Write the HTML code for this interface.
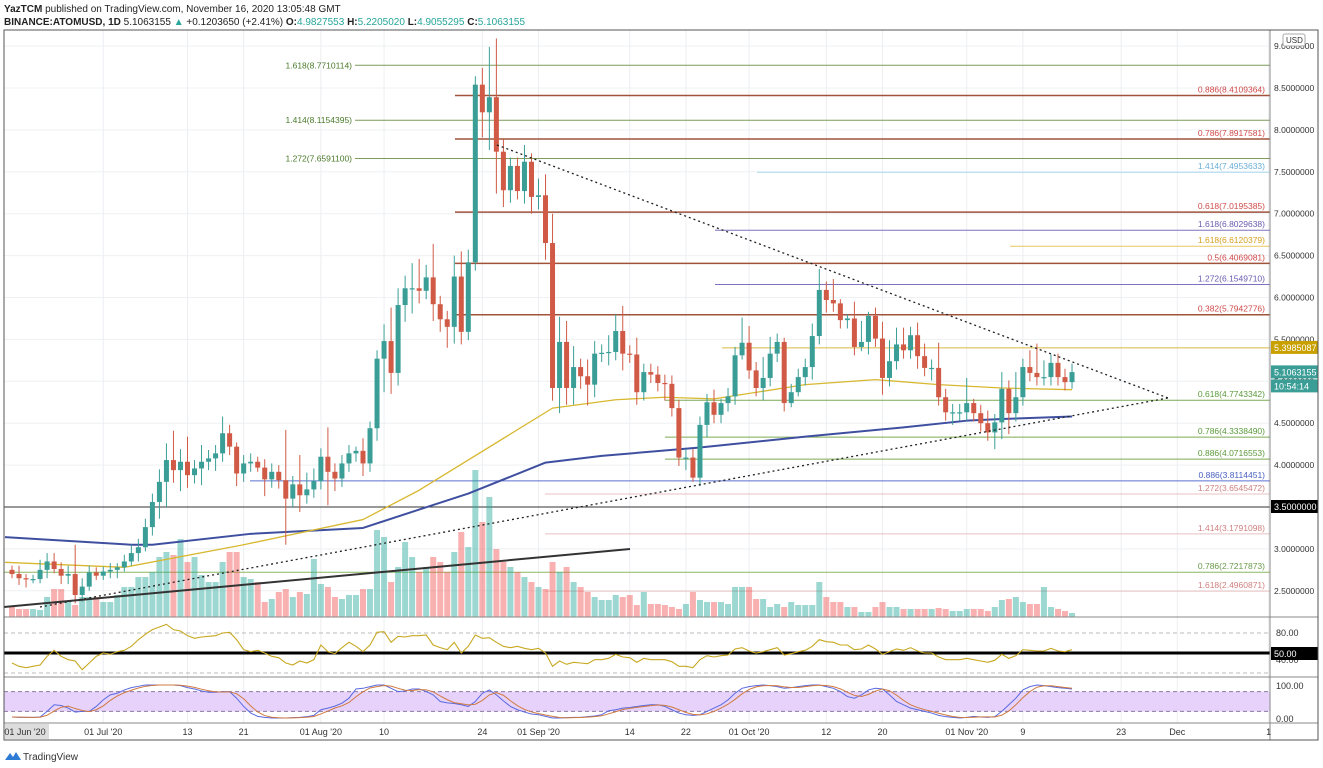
<!DOCTYPE html>
<html><head><meta charset="utf-8"><style>
body{margin:0;background:#fff;width:1323px;height:768px;overflow:hidden;font-family:"Liberation Sans",sans-serif}
svg{position:absolute;left:0;top:0}
</style></head><body>
<svg id="c" width="1323" height="768" xmlns="http://www.w3.org/2000/svg" font-family="Liberation Sans, sans-serif">
<text x="4" y="12" font-size="10" fill="#222"><tspan font-weight="bold">YazTCM</tspan> published on TradingView.com, November 16, 2020 13:05:48 GMT</text>
<text x="4" y="25" font-size="10" fill="#222"><tspan font-weight="bold">BINANCE:ATOMUSD, 1D</tspan> 5.1063155 <tspan fill="#26a69a">▲</tspan> +0.1203650 (+2.41%) <tspan font-weight="bold">O:</tspan><tspan fill="#26a69a">4.9827553</tspan> <tspan font-weight="bold">H:</tspan><tspan fill="#26a69a">5.2205020</tspan> <tspan font-weight="bold">L:</tspan><tspan fill="#26a69a">4.9055295</tspan> <tspan font-weight="bold">C:</tspan><tspan fill="#26a69a">5.1063155</tspan></text>
<g id="grid"></g><g id="levels"></g><g id="vol"></g><g id="ma"></g><g id="candles"></g><g id="trend"></g><g id="ind"></g><g id="axes"></g>
<rect x="4" y="30" width="1314" height="710" fill="none" stroke="#555" stroke-width="1"/>
<g><path d="M5 760 L10 753 L13 757 L16 752 L21 760 Z" fill="#2e7bd6"/><text x="23" y="760" font-size="10" fill="#333">TradingView</text></g>
</svg>
<script>
const NS="http://www.w3.org/2000/svg";
const closes=[2.70,2.65,2.64,2.64,2.75,2.85,2.76,2.68,2.70,2.45,2.55,2.72,2.68,2.73,2.75,2.78,2.85,2.95,3.02,3.26,3.56,3.80,4.06,3.94,4.04,3.88,3.96,4.04,4.08,4.14,4.38,4.22,3.90,4.02,4.04,3.97,3.83,3.92,3.82,3.60,3.77,3.64,3.71,3.81,4.10,3.92,3.84,4.02,4.14,4.17,4.02,4.44,5.27,5.48,5.10,5.91,6.11,6.11,6.08,6.24,5.92,5.74,5.65,6.25,5.59,6.42,8.54,8.21,8.39,7.74,7.28,7.57,7.27,7.62,7.20,7.22,6.65,4.92,5.47,4.92,5.17,5.06,4.96,5.33,5.34,5.35,5.60,5.33,5.32,4.87,5.11,5.08,4.98,4.97,4.68,4.09,4.09,3.85,4.48,4.75,4.60,4.74,4.82,5.31,5.46,5.13,4.92,5.04,5.33,5.47,4.74,4.87,5.05,5.17,5.54,6.09,5.97,5.93,5.73,5.75,5.41,5.47,5.78,5.51,5.04,5.24,5.44,5.37,5.55,5.30,5.16,5.16,4.81,4.63,4.63,4.63,4.74,4.62,4.50,4.39,4.51,4.91,4.62,4.81,5.17,5.10,5.05,5.05,5.22,5.05,4.99,5.11];
const firstOpen=2.75;
const wickUp=[.05,.1,.05,.05,.12,.1,.1,.08,.1,.35,.1,.08,.06,.06,.08,.05,.08,.1,.1,.1,.1,.15,.2,.35,.15,.3,.1,.2,.1,.1,.2,.1,.05,.1,.1,.06,.1,.1,.08,.6,.1,.35,.2,.15,.1,.35,.1,.1,.1,.05,.15,.08,.1,.2,.4,.2,.15,.3,.35,.15,.4,.1,.1,.25,.3,.15,.1,.2,.6,.7,.15,.1,.1,.2,.1,.2,.25,.35,.3,.25,.25,.1,.2,.15,.1,.2,.2,.3,.1,.2,.1,.1,.1,.1,.1,.1,.1,.1,.1,.1,.15,.05,.1,.1,.3,.2,.1,.25,.2,.1,.05,.1,.1,.1,.15,.25,.1,.25,.05,.05,.2,.25,.05,.1,.2,.25,.2,.2,.1,.15,.15,.1,.3,.1,.1,.1,.3,.05,.1,.15,.1,.2,.1,.3,.1,.2,.35,.2,.1,.11];
const wickDn=[.05,.08,.1,.05,.05,.1,.05,.1,.1,.1,.08,.05,.05,.05,.08,.1,.05,.05,.1,.05,.1,.2,.3,.15,.25,.15,.1,.2,.1,.15,.1,.1,.15,.1,.1,.05,.2,.1,.1,.55,.1,.2,.1,.1,.1,.4,.15,.1,.1,.1,.15,.1,.15,.4,.25,.15,.2,.3,.15,.1,.2,.15,.25,.2,.15,.1,.1,.3,.45,.5,.2,.15,.1,.15,.2,.15,.2,.15,.3,.2,.2,.15,.25,.15,.1,.15,.1,.2,.1,.15,.1,.1,.1,.2,.1,.1,.15,.05,.1,.15,.1,.1,.1,.1,.05,.1,.1,.15,.1,.1,.1,.05,.05,.1,.15,.1,.15,.1,.1,.1,.1,.05,.15,.1,.2,.1,.1,.1,.1,.15,.1,.15,.1,.1,.15,.1,.1,.1,.1,.1,.2,.2,.25,.1,.1,.1,.1,.1,.1,.1,.1,.08];
const volume=[10,8,8,8,7,20,28,28,15,12,20,20,20,15,15,22,30,30,40,40,45,60,65,62,78,55,60,42,35,35,55,65,65,40,38,35,15,18,25,28,20,25,23,58,33,30,20,18,22,22,28,28,87,80,35,50,75,60,45,50,60,55,45,65,85,70,147,95,120,68,55,50,45,40,35,30,28,55,45,50,35,30,25,20,17,17,22,20,22,12,25,13,13,12,10,8,13,25,17,15,15,15,13,30,30,30,18,18,10,13,10,15,12,12,12,35,20,15,15,10,10,5,5,10,15,10,10,8,8,8,8,8,9,8,6,6,8,8,8,6,10,17,18,20,15,13,13,30,10,8,6,4];
const rsi=[35,30,28,30,32,45,54,45,40,38,25,35,45,50,48,52,54,60,70,78,85,89,93,85,83,76,72,74,75,76,80,81,70,55,52,54,50,45,43,35,32,38,35,40,62,52,49,58,66,60,52,62,81,82,66,75,74,76,76,77,62,58,55,66,50,60,77,72,73,66,60,58,60,57,55,57,50,30,38,33,36,35,34,40,40,42,48,44,43,36,42,40,40,40,37,30,30,28,40,46,44,46,47,56,58,53,50,52,55,58,47,49,52,54,60,70,67,66,62,62,55,56,62,56,48,52,56,54,58,53,50,50,44,40,40,40,42,40,38,36,39,48,42,46,55,54,53,53,57,53,52,55];
const stochK=[3,2,2,2,3,20,40,38,30,18,20,20,35,55,70,75,85,92,96,100,100,100,100,100,98,92,88,82,78,78,80,80,60,35,15,5,2,0,0,0,1,2,4,8,25,30,36,45,60,88,90,95,100,100,90,80,82,88,88,80,70,50,46,44,40,35,50,75,85,70,52,35,25,18,12,10,5,0,0,1,2,2,4,6,10,22,25,30,32,35,38,40,40,35,25,15,10,8,10,20,30,40,55,75,90,95,98,100,98,95,90,92,95,98,100,100,95,90,80,65,60,70,85,90,88,70,50,40,30,25,20,15,8,4,2,0,2,5,3,2,4,20,40,60,85,95,100,98,95,92,90,88];
const ma50Days=[-1,16,33,50,58,77,86,93,100,113,123,132,141,151];
const ma50Vals=[2.84,2.78,3.05,3.35,3.70,4.68,4.78,4.81,4.79,4.96,5.02,4.96,4.92,4.90];
const ma200Days=[-1,7,17,20,34,50,58,65,76,84,98,113,127,136,141,151];
const ma200Vals=[3.14,3.10,3.05,3.05,3.18,3.25,3.47,3.66,4.03,4.11,4.21,4.34,4.45,4.53,4.55,4.58];
const yTicks=[9,8.5,8,7.5,7,6.5,6,5.5,5,4.5,4,3.5,3,2.5];
const dateLabels=["01 Jun '20","01 Jul '20","13","21","01 Aug '20","10","24","01 Sep '20","14","22","01 Oct '20","12","20","01 Nov '20","9","23","Dec","1"];
const dateDays=[-17,13,25,33,44,53,67,75,88,96,105,116,124,136,144,158,166,179];
const X=i=>12+i*7.02;
const Y=p=>507-(p-3.5)*83.8;
const YR=v=>653-(v-50)*0.667;
const YS=v=>718-v*0.33;
const $=id=>document.getElementById(id);
function el(parent,tag,attrs){const e=document.createElementNS(NS,tag);for(const k in attrs)e.setAttribute(k,attrs[k]);parent.appendChild(e);return e;}
const g=$("grid");
yTicks.forEach(t=>{const l=el(g,"line",{x1:4,x2:1270,y1:Y(t),y2:Y(t),stroke:"#eef0f3"});});
dateDays.forEach((d,k)=>{if(k==0)return;const l=el(g,"line",{x1:X(d),x2:X(d),y1:30,y2:723,stroke:"#eceef2"});});
const ax=$("axes");
[617,677,723].forEach(y=>{const l=el(ax,"line",{x1:4,x2:1318,y1:y,y2:y,stroke:"#888"});});
el(ax,"line",{x1:1270,x2:1270,y1:30,y2:740,stroke:"#888"});
yTicks.forEach(t=>{const tx=el(ax,"text",{x:1274,y:Y(t)+3,"font-size":"8.5",fill:"#333"});tx.textContent=t.toFixed(7);});
const usd=el(ax,"rect",{x:1283,y:34,width:22,height:12,rx:2,fill:"#fff",stroke:"#aaa"});
const ut=el(ax,"text",{x:1286,y:43,"font-size":"8",fill:"#333"});ut.textContent="USD";
dateLabels.forEach((s,k)=>{const x=k==0?25:X(dateDays[k]);if(k==0)el(ax,"rect",{x:5,y:724,width:44,height:15,fill:"#ddd"});const t=el(ax,"text",{x:x,y:735,"font-size":"9",fill:"#333","text-anchor":"middle"});t.textContent=s;});
[["80.00",633],["40.00",660],["100.00",686],["0.00",719]].forEach(a=>{const t=el(ax,"text",{x:1276,y:a[1]+3,"font-size":"9",fill:"#333"});t.textContent=a[0];});
const lv=$("levels");
const levels=[[8.7710114,355,"#7f9a5a","1.618(8.7710114)","L","#4a7a2a"],[8.4109364,455,"#a0523a","0.886(8.4109364)","R","#d04a4a"],[8.1154395,355,"#7f9a5a","1.414(8.1154395)","L","#4a7a2a"],[7.8917581,455,"#a0523a","0.786(7.8917581)","R","#d04a4a"],[7.65911,355,"#7f9a5a","1.272(7.6591100)","L","#4a7a2a"],[7.4953633,757,"#a8d8f0","1.414(7.4953633)","R","#6aaed8"],[7.0195385,455,"#a0523a","0.618(7.0195385)","R","#d04a4a"],[6.8029638,715,"#8070c0","1.618(6.8029638)","R","#6a5ab0"],[6.6120379,1010,"#e8c860","1.618(6.6120379)","R","#d8a020"],[6.4069081,455,"#a0523a","0.5(6.4069081)","R","#d04a4a"],[6.154971,715,"#8070c0","1.272(6.1549710)","R","#6a5ab0"],[5.7942776,455,"#a0523a","0.382(5.7942776)","R","#d04a4a"],[5.3985087,722,"#d8b840","","R",""],[4.7743342,665,"#7aaa50","0.618(4.7743342)","R","#5a9a3a"],[4.333849,665,"#7aaa50","0.786(4.3338490)","R","#5a9a3a"],[4.0716553,665,"#7aaa50","0.886(4.0716553)","R","#5a9a3a"],[3.8114451,250,"#5a70d0","0.886(3.8114451)","R","#4a60c0"],[3.6545472,545,"#e8c0c0","1.272(3.6545472)","R","#d08080"],[3.5,4,"#333","","R",""],[3.1791098,545,"#e8c0c0","1.414(3.1791098)","R","#d08080"],[2.7217873,4,"#8ab860","0.786(2.7217873)","R","#6a9a4a"],[2.4960871,545,"#e8c0c0","1.618(2.4960871)","R","#d08080"]];
levels.forEach(L=>{const y=Y(L[0]);const l=el(lv,"line",{x1:L[1],x2:1270,y1:y,y2:y,stroke:L[2],"stroke-width":L[2]=="#a0523a"?1.5:1});
if(L[3]){const t=el(lv,"text",{x:L[4]=="L"?352:1265,y:L[4]=="L"?y+3:y-3,"font-size":"8.5",fill:L[5],"text-anchor":"end"});t.textContent=L[3];}});
const vg=$("vol");
closes.forEach((c,i)=>{const o=i?closes[i-1]:firstOpen;const v=volume[i];const r=el(vg,"rect",{x:X(i)-3,y:617-v,width:6,height:v,fill:c>=o?"rgba(38,166,154,0.45)":"rgba(239,83,80,0.45)"});});
const mg=$("ma");
function poly(days,vals,col,w,name){const p=days.map((d,k)=>X(d)+","+Y(vals[k])).join(" ");const e=el(mg,"polyline",{points:p,fill:"none",stroke:col,"stroke-width":w,"stroke-linejoin":"round"});}
poly(ma200Days,ma200Vals,"#3f4fa0",2,"ma-200-line");
poly(ma50Days,ma50Vals,"#d8b830",1.3,"ma-50-line");
const cg=$("candles");
closes.forEach((c,i)=>{const o=i?closes[i-1]:firstOpen;const up=c>=o;const col=up?"#3a9e97":"#d05a45";const hi=Math.max(o,c)+(wickUp[i]??0.1),lo=Math.min(o,c)-(wickDn[i]??0.1);
const w=el(cg,"line",{x1:X(i),x2:X(i),y1:Y(hi),y2:Y(lo),stroke:col,"stroke-width":1});
const yt=Y(Math.max(o,c));const h=Math.max(1.2,Y(Math.min(o,c))-yt);const b=el(cg,"rect",{x:X(i)-2.5,y:yt,width:5,height:h,fill:col});});
const tg=$("trend");
let t1=el(tg,"line",{x1:497,y1:145,x2:1168,y2:398,stroke:"#222","stroke-dasharray":"2,3","stroke-width":1.3});
let t2=el(tg,"line",{x1:40,y1:607,x2:1168,y2:398,stroke:"#222","stroke-dasharray":"2,3","stroke-width":1.3});
let t3=el(tg,"line",{x1:4,y1:607,x2:630,y2:549,stroke:"#333","stroke-width":2});
const ig=$("ind");
[633,673].forEach(y=>el(ig,"line",{x1:4,x2:1270,y1:y,y2:y,stroke:"#bbb","stroke-dasharray":"4,3"}));
const ml=el(ig,"line",{x1:4,x2:1270,y1:653,y2:653,stroke:"#000","stroke-width":3});
const rp=el(ig,"polyline",{points:rsi.map((v,i)=>X(i)+","+YR(v)).join(" "),fill:"none",stroke:"#c8a820","stroke-width":1.1});
const band=el(ig,"rect",{x:4,y:YS(80),width:1266,height:YS(20)-YS(80),fill:"#e6d2fa"});
[80,20].forEach(v=>el(ig,"line",{x1:4,x2:1270,y1:YS(v),y2:YS(v),stroke:"#8a7aa0","stroke-dasharray":"4,3"}));
const stochD=stochK.map((v,i)=>{const a=stochK.slice(Math.max(0,i-2),i+1);return a.reduce((s,x)=>s+x,0)/a.length;});
const kp=el(ig,"polyline",{points:stochK.map((v,i)=>X(i)+","+YS(v)).join(" "),fill:"none",stroke:"#5a6ae0","stroke-width":1});
const dp=el(ig,"polyline",{points:stochD.map((v,i)=>X(i)+","+YS(v)).join(" "),fill:"none",stroke:"#d07a40","stroke-width":1});
function badge(y,txt,bg,fg,name){const r=el(ax,"rect",{x:1271,y:y-7,width:47,height:13,fill:bg});const t=el(ax,"text",{x:1274,y:y+3,"font-size":"9",fill:fg});t.textContent=txt;}
badge(Y(5.3985087),"5.3985087","#c8a000","#fff","level-price-badge");
badge(Y(5.1063155),"5.1063155","#3a9e97","#fff","last-price-badge");
badge(Y(5.1063155)+14,"10:54:14","#3a9e97","#fff","countdown-badge");
badge(507,"3.5000000","#000","#fff","support-price-badge");
badge(654,"50.00","#000","#fff","rsi-50-badge");
</script>
</body></html>
